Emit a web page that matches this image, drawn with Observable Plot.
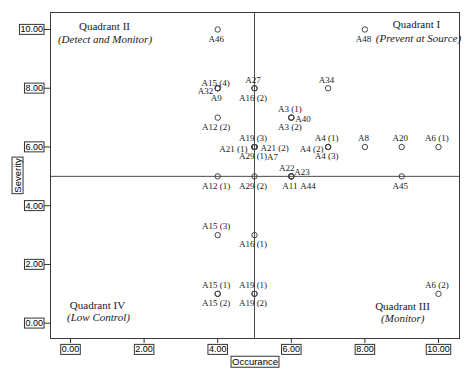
<!DOCTYPE html>
<html><head><meta charset="utf-8">
<script src="https://cdn.jsdelivr.net/npm/d3@7"></script>
<script src="https://cdn.jsdelivr.net/npm/@observablehq/plot@0.6"></script>
<style>
html,body{margin:0;padding:0;background:#fff;}
</style>
</head><body><div id="chart"></div>
<script>
// ---- data ----
const names = ["A46","A48","A15 (4)","A32","A9","A27","A16 (2)","A34","A3 (1)","A40","A3 (2)","A12 (2)",
  "A19 (3)","A21 (1)","A21 (2)","A29 (1)","A7","A4 (1)","A4 (2)","A4 (3)","A8","A20","A6 (1)",
  "A22","A23","A11","A44","A12 (1)","A29 (2)","A45","A15 (3)","A16 (1)","A15 (1)","A15 (2)","A19 (1)","A19 (2)","A6 (2)"];
const occurrence = [4,8,4,4,4,5,5,7,6,6,6,4,
  5,5,5,5,5,7,7,7,8,9,10,
  6,6,6,6,4,5,9,4,5,4,4,5,5,10];
const severity = [10,10,8,8,8,8,8,8,7,7,7,7,
  6,6,6,6,6,6,6,6,6,6,6,
  5,5,5,5,5,5,5,3,3,1,1,1,1,1];
const placement = ["below","below","aboveClose","left","below","above","below","above","above","right","below","below",
  "above","leftFar","rightFar","below","belowFar","above","left","below","above","above","above",
  "aboveLeft","upRight","below","downRight","below","below","below","above","below","above","below","above","below","above"];
const xTicks = [0,2,4,6,8,10];
const yTicks = [0,2,4,6,8,10];
const quadrantTitles = ["Quadrant II","Quadrant I","Quadrant IV","Quadrant III"];
const quadrantNotes = ["(Detect and Monitor)","(Prevent at Source)","(Low Control)","(Monitor)"];
const xLabel = "Occurance";
const yLabel = "Severity";
const threshold = 5;

const data = names.map((n, i) => ({name: n, x: occurrence[i], y: severity[i], place: placement[i]}));

// ---- styling ----
const serif = "'Liberation Serif', 'Times New Roman', serif";
const offsets = {
  above:      {dx: -1.5, dy: -8.5, textAnchor: "middle"},
  aboveClose: {dx: -2,   dy: -5.5, textAnchor: "middle"},
  aboveLeft:  {dx: -4.5, dy: -8.5, textAnchor: "middle"},
  below:      {dx: -1.5, dy: 9.5,  textAnchor: "middle"},
  left:       {dx: -4.5, dy: 2.5,  textAnchor: "end"},
  leftFar:    {dx: -7,   dy: 2,    textAnchor: "end"},
  right:      {dx: 4,    dy: 1.5,  textAnchor: "start"},
  rightFar:   {dx: 6,    dy: 1.5,  textAnchor: "start"},
  upRight:    {dx: 3,    dy: -4,   textAnchor: "start"},
  downRight:  {dx: 9,    dy: 9.5,  textAnchor: "start"},
  belowFar:   {dx: 12.5, dy: 10,   textAnchor: "start"}
};
const labelMarks = Object.entries(offsets).map(([key, o]) =>
  Plot.text(data.filter(d => d.place === key), {
    x: "x", y: "y", text: "name", dx: o.dx, dy: o.dy, textAnchor: o.textAnchor,
    fontFamily: serif, fontSize: 9, fill: "#1a1a1a"
  })
);
const quadAnchors = [
  {frameAnchor: "top-left",     dx: 54,  dy1: 14,  dx2: 54.5, dy2: 27.3},
  {frameAnchor: "top-right",    dx: -43, dy1: 12,  dx2: -41,  dy2: 25.7},
  {frameAnchor: "bottom-left",  dx: 47,  dy1: -33, dx2: 48,   dy2: -21},
  {frameAnchor: "bottom-right", dx: -57, dy1: -32, dx2: -56.7, dy2: -20}
];
const quadMarks = quadAnchors.flatMap((a, i) => [
  Plot.text([quadrantTitles[i]], {text: d => d, frameAnchor: a.frameAnchor, dx: a.dx, dy: a.dy1,
    textAnchor: "middle", lineAnchor: "middle", fontFamily: serif, fontSize: 11, fill: "#1a1a1a"}),
  Plot.text([quadrantNotes[i]], {text: d => d, frameAnchor: a.frameAnchor, dx: a.dx2, dy: a.dy2,
    textAnchor: "middle", lineAnchor: "middle", fontFamily: serif, fontSize: 11, fontStyle: "italic", fill: "#1a1a1a"})
]);

const fmt = d => d.toFixed(2);

const plot = Plot.plot({
  width: 474, height: 377,
  marginLeft: 50, marginRight: 15, marginTop: 12, marginBottom: 39,
  x: {domain: [-0.544, 10.571]},
  y: {domain: [-0.521, 10.579]},
  style: {fontFamily: "'Liberation Sans', Arial, sans-serif", fontSize: "9px", background: "#fff", color: "#000"},
  marks: [
    Plot.ruleX([threshold], {stroke: "#4a4a4a", strokeWidth: 1}),
    Plot.ruleY([threshold], {stroke: "#4a4a4a", strokeWidth: 1}),
    Plot.frame({stroke: "#3a3a3a"}),
    Plot.axisX({ticks: xTicks, tickFormat: fmt, tickSize: 5, tickPadding: 2.5, label: null, stroke: "#333"}),
    Plot.axisY({ticks: yTicks, tickFormat: fmt, tickSize: 6, tickPadding: 1.5, label: null, stroke: "#333"}),
    Plot.dot(data, {x: "x", y: "y", r: 2.7, stroke: "#444", fill: "none", strokeWidth: 1}),
    ...labelMarks,
    ...quadMarks,
    Plot.text([xLabel], {text: d => d, frameAnchor: "bottom", dy: 23.7, lineAnchor: "middle", textAnchor: "middle", fontSize: 9.5}),
    Plot.text([yLabel], {text: d => d, frameAnchor: "left", dx: -32.5, dy: 0, rotate: -90, lineAnchor: "middle", textAnchor: "middle", fontSize: 9.5})
  ]
});
document.getElementById("chart").append(plot);

// boxed tick labels and axis titles (SPSS look)
const boxed = new Set([...xTicks.map(fmt), ...yTicks.map(fmt), xLabel, yLabel]);
const targets = [];
d3.select(plot).selectAll("text").each(function() {
  if (boxed.has(this.textContent)) targets.push(this);
});
for (const t of targets) {
  const b = t.getBBox();
  const r = document.createElementNS("http://www.w3.org/2000/svg", "rect");
  r.setAttribute("x", b.x - 1);
  r.setAttribute("y", b.y);
  r.setAttribute("width", b.width + 2);
  r.setAttribute("height", b.height);
  const tr = t.getAttribute("transform");
  if (tr) r.setAttribute("transform", tr);
  r.setAttribute("fill", "none");
  r.setAttribute("stroke", "#333");
  r.setAttribute("stroke-width", "1");
  t.parentNode.insertBefore(r, t);
}
</script>
</body></html>
